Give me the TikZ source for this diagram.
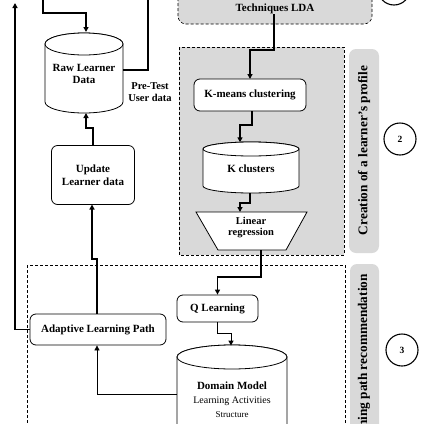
\documentclass[tikz,border=0pt]{standalone}
\usepackage{fontspec}
\setmainfont{Liberation Serif}
\usetikzlibrary{arrows.meta,shapes.geometric}
\definecolor{panel}{RGB}{217,217,217}
\begin{document}
\begin{tikzpicture}[x=1pt,y=-1pt,
  lbl/.style={font=\bfseries\fontsize{11}{12.5}\selectfont, align=center, inner sep=0pt},
  side/.style={font=\bfseries\fontsize{13.3}{15}\selectfont, inner sep=0pt, rotate=90},
  box/.style={draw, line width=0.8pt, rounded corners=6pt, fill=white, lbl},
  thickarr/.style={line width=1.7pt, -{Triangle[length=5pt,width=5pt]}},
  thickline/.style={line width=1.7pt},
  thinarr/.style={line width=0.8pt, -{Triangle[length=5pt,width=5pt]}},
  sect/.style={draw, dashed, line width=0.6pt, dash pattern=on 3pt off 2pt},
  cyl/.style={draw, line width=0.8pt, fill=white},
  num/.style={circle, draw, line width=1.1pt, minimum size=32pt, inner sep=0pt, font=\bfseries\fontsize{9.5}{10}\selectfont},
]
\useasboundingbox (0,0) rectangle (424,424);
\clip (0,0) rectangle (424,424);

% panels
\draw[sect, fill=panel, rounded corners=8pt] (178,-30) rectangle (372,24);
\draw[sect, fill=panel] (179,47) rectangle (344,255);
\draw[sect, fill=white] (27,265) rectangle (345,440);
\fill[panel, rounded corners=7pt] (349,49) rectangle (379,253);
\fill[panel, rounded corners=7pt] (350,264) rectangle (379,440);

\node[lbl] (lda) at (275,9) {Techniques LDA};
\node[side] (sec2) at (364,150.5) {Creation of a learner's profile};
\node[side, anchor=east] (sec3) at (364,274) {Learning path recommendation};

\node[num] (c1) at (394,-11) {};
\node[num] (c2) at (400,139) {2};
\node[num] (c3) at (402,350) {3};

% Raw Learner Data cylinder
\draw[cyl] (45,44) -- (45,102) arc[start angle=180, end angle=360, x radius=39pt, y radius=11pt] -- (123,44) arc[start angle=0, end angle=180, x radius=39pt, y radius=11pt] -- cycle;
\draw[cyl] (84,44) ellipse[x radius=39pt, y radius=11pt];
\node[lbl] (raw) at (84,74) {Raw Learner\\Data};
\coordinate (rawtop) at (86,32);
\coordinate (rawright) at (123,70);
\coordinate (rawbot) at (86,113);

\node[lbl, font=\bfseries\fontsize{10.5}{12}\selectfont] (pretest) at (150,92) {Pre-Test\\User data};

% Update Learner data
\node[box, minimum width=83pt, minimum height=59pt, font=\bfseries\fontsize{11}{13}\selectfont] (upd) at (93,175) {Update\\Learner data};

% Adaptive Learning Path
\node[box, minimum width=136pt, minimum height=31pt] (alp) at (98,329.5) {Adaptive Learning Path};

% K-means
\node[box, minimum width=112pt, minimum height=32pt] (km) at (250,95) {K-means clustering};

% K clusters cylinder
\draw[cyl] (203,149) -- (203,186) arc[start angle=180, end angle=360, x radius=48pt, y radius=7pt] -- (299,149) arc[start angle=0, end angle=180, x radius=48pt, y radius=7pt] -- cycle;
\draw[cyl] (251,149) ellipse[x radius=48pt, y radius=7pt];
\node[lbl] (kc) at (251,169) {K clusters};
\coordinate (kctop) at (240,142.3);
\coordinate (kcbot) at (250,193);

% Linear regression trapezoid
\draw[cyl] (196,212) -- (307,212) -- (286,250) -- (218,250) -- cycle;
\node[lbl, font=\bfseries\fontsize{10.5}{11}\selectfont] (lr) at (251,228) {Linear\\regression};
\coordinate (lrtop) at (240,212);
\coordinate (lrbot) at (261,250);

% Q Learning
\node[box, minimum width=81pt, minimum height=27pt] (ql) at (217.5,308.5) {Q Learning};

% Domain Model cylinder
\draw[cyl] (177,357) -- (177,440) -- (287,440) -- (287,357) arc[start angle=0, end angle=180, x radius=55pt, y radius=12pt] -- cycle;
\draw[cyl] (232,357) ellipse[x radius=55pt, y radius=12pt];
\node[lbl, align=center, font=\bfseries\fontsize{11}{14}\selectfont] (dm) at (232,400) {Domain Model\\{\mdseries\fontsize{10}{14}\selectfont Learning Activities}\\{\mdseries\fontsize{9}{14}\selectfont Structure}};
\coordinate (dmtop) at (231,345.6);
\coordinate (dmleft) at (177,394);

% off-picture ends
\coordinate (topA) at (43,-5);
\coordinate (topB) at (148,-5);
\coordinate (topC) at (15,3);

% connectors
\draw[thickarr] (topA) -- (43,13) -| (rawtop);
\draw[thickline] (rawright) -| (topB);
\draw[thickarr] (upd.north) -- (93,128) -| (rawbot);
\draw[thickarr] (alp.north -| 97,0) -- (97,259) -| (92,204.5);
\draw[thickarr] (alp.west) -- (15,329.5) -- (topC);
\draw[thickarr] (lda.south -| 274,0) -- (274,24) -- (274,50) -| (250,79);
\draw[thickarr] (km.south -| 252,0) -- (252,125) -| (kctop);
\draw[thickarr] (kcbot) -- (250,203) -| (lrtop);
\draw[thickarr] (lrbot) -- (261,277) -| (ql.north);
\draw[thinarr] (ql.south) -- (217.5,333) -| (dmtop);
\draw[thinarr] (dmleft) -| (alp.south -| 97,0);
\end{tikzpicture}
\end{document}
